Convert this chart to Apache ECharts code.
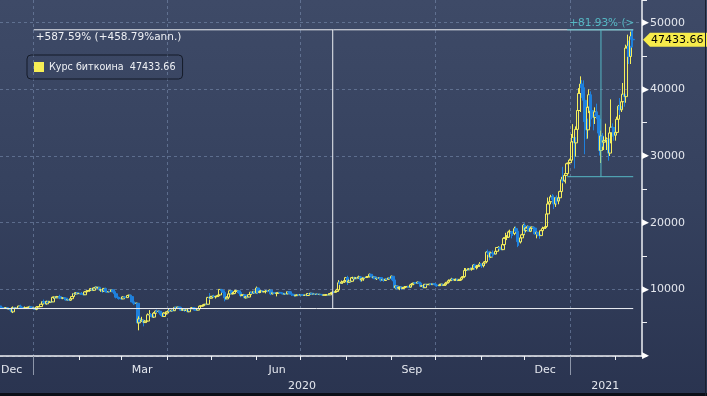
<!DOCTYPE html>
<html><head><meta charset="utf-8">
<script src="https://cdn.jsdelivr.net/npm/echarts@6/dist/echarts.min.js"></script>
<style>
html,body{margin:0;padding:0;background:#2b3451;overflow:hidden;}
#wrap{position:relative;width:707px;height:396px;}
#c{position:absolute;left:0;top:0;width:707px;height:396px;background:linear-gradient(to bottom,#3e4a67 0%,#35415e 50%,#2a3450 100%);}
#eb{position:absolute;left:0;top:393px;width:707px;height:3px;background:#0b0f18;}
#er{position:absolute;left:705px;top:0;width:1px;height:396px;background:#1b2232;}
</style></head><body><div id="wrap"><div id="c"></div><div id="eb"></div><div id="er"></div></div>
<script>
// ---- data ----
const seriesName = 'Курс биткоина';
const firstDay = [2019, 11, 9];   // 9 Dec 2019
const lastDay  = [2021, 1, 19];   // 19 Feb 2021 (axis end)
const monthNames = ['Jan','Feb','Mar','Apr','May','Jun','Jul','Aug','Sep','Oct','Nov','Dec'];
const monthLabelAt = ['2019-12-17','2020-03-15','2020-06-15','2020-09-15','2020-12-15'];
const yearLabelAt = ['2020-07-02','2021-01-25'];
const yTicks = [0,10000,20000,30000,40000,50000];

const opens = [
7510,7340,7220,7200,7190,7250,7065,7110,6880,6620,7280,7150,7190,7140,7500,7320,7250,7200,7200,7250,7320,7390,7250,
7190,7200,6985,7345,7410,7411,7770,8160,8045,7818,8197,8020,8185,8110,8810,8820,8720,8910,8920,8700,8660,8745,8680,8405,8445,8367,8596,8910,9358,9316,9508,
9350,9393,9344,9293,9180,9613,9729,9795,9865,10116,9856,10208,10326,10214,10312,9889,9934,9690,10141,9633,9608,9686,9663,9924,9650,9341,8820,8784,8672,
8599,8562,8869,8787,8755,9078,9122,8909,8108,7923,7909,7911,4970,5563,5200,5392,5014,5225,5238,6191,6198,6185,5830,6416,6734,6681,6716,6469,6242,5922,6429,
6438,6640,6807,6733,6868,6792,7293,7197,7366,7302,6865,6859,6971,6846,6869,6637,7117,7096,7257,7189,6881,6880,7117,7482,7505,7539,7693,7774,7759,8788,
8659,8864,8989,8897,8912,9004,9158,9986,9800,9539,8722,8562,8810,9310,9791,9316,9381,9680,9734,9775,9512,9058,9170,9180,8720,8900,8842,9204,9576,9427,9697,
9448,10200,9519,9666,9789,9621,9666,9746,9785,9771,9878,9321,9480,9475,9386,9454,9538,9480,9411,9289,9332,9303,9648,9629,9313,9264,9162,9046,9143,9190,
9138,9228,9123,9087,9132,9073,9375,9252,9428,9277,9278,9240,9277,9243,9243,9192,9132,9151,9159,9185,9165,9374,9525,9581,9536,9677,9905,10990,10912,11100,11111,
11323,11760,11053,11246,11205,11747,11779,11601,11754,11675,11878,11410,11584,11784,11768,11865,11892,12254,11991,11758,11878,11592,11681,11664,11774,11366,11488,11323,11542,11506,11711,
11680,11970,11414,10245,10512,10167,10280,10370,10131,10242,10363,10400,10442,10323,10680,10796,10974,10948,10944,11094,10939,10462,10538,10246,10760,10692,10750,10775,10709,10844,
10784,10619,10575,10549,10669,10793,10604,10668,10915,11064,11296,11384,11555,11425,11429,11505,11319,11360,11503,11751,11916,12823,12965,12931,13108,13031,13075,13654,13271,13437,13546,
13781,13737,13550,13950,14133,15579,15565,14833,15479,15332,15290,15701,16277,16317,16068,15955,16716,17645,17804,17817,18621,18642,18370,18364,19107,18732,17150,17108,17718,18177,
19625,18802,19201,19446,18699,19154,19345,19191,18321,18553,18264,18058,18803,19142,19246,19418,21310,22805,23137,23869,23477,22803,23783,23241,23735,24664,26437,26272,27084,27362,28840,
29001,29374,32127,32782,31971,33992,36824,39371,40797,40254,38356,35566,33922,37316,39187,36825,36178,35791,36630,36069,35547,30825,33005,32067,32289,32366,32569,30432,33466,34316,34269,
33114,33537,35510,37472,36926,38144,39266,38903,46196,46481,44918,47909,47504
];
const closes = [
7340,7220,7200,7190,7250,7065,7110,6880,6620,7280,7150,7190,7140,7500,7320,7250,7200,7200,7250,7320,7390,7250,7190,
7200,6985,7345,7410,7411,7770,8160,8045,7818,8197,8020,8185,8110,8810,8820,8720,8910,8920,8700,8660,8745,8680,8405,8445,8367,8596,8910,9358,9316,9508,9350,
9393,9344,9293,9180,9613,9729,9795,9865,10116,9856,10208,10326,10214,10312,9889,9934,9690,10141,9633,9608,9686,9663,9924,9650,9341,8820,8784,8672,8599,
8562,8869,8787,8755,9078,9122,8909,8108,7923,7909,7911,4970,5563,5200,5392,5014,5225,5238,6191,6198,6185,5830,6416,6734,6681,6716,6469,6242,5922,6429,6438,
6640,6807,6733,6868,6792,7293,7197,7366,7302,6865,6859,6971,6846,6869,6637,7117,7096,7257,7189,6881,6880,7117,7482,7505,7539,7693,7774,7759,8788,8659,
8864,8989,8897,8912,9004,9158,9986,9800,9539,8722,8562,8810,9310,9791,9316,9381,9680,9734,9775,9512,9058,9170,9180,8720,8900,8842,9204,9576,9427,9697,9448,
10200,9519,9666,9789,9621,9666,9746,9785,9771,9878,9321,9480,9475,9386,9454,9538,9480,9411,9289,9332,9303,9648,9629,9313,9264,9162,9046,9143,9190,9138,
9228,9123,9087,9132,9073,9375,9252,9428,9277,9278,9240,9277,9243,9243,9192,9132,9151,9159,9185,9165,9374,9525,9581,9536,9677,9905,10990,10912,11100,11111,11323,
11760,11053,11246,11205,11747,11779,11601,11754,11675,11878,11410,11584,11784,11768,11865,11892,12254,11991,11758,11878,11592,11681,11664,11774,11366,11488,11323,11542,11506,11711,11680,
11970,11414,10245,10512,10167,10280,10370,10131,10242,10363,10400,10442,10323,10680,10796,10974,10948,10944,11094,10939,10462,10538,10246,10760,10692,10750,10775,10709,10844,10784,
10619,10575,10549,10669,10793,10604,10668,10915,11064,11296,11384,11555,11425,11429,11505,11319,11360,11503,11751,11916,12823,12965,12931,13108,13031,13075,13654,13271,13437,13546,13781,
13737,13550,13950,14133,15579,15565,14833,15479,15332,15290,15701,16277,16317,16068,15955,16716,17645,17804,17817,18621,18642,18370,18364,19107,18732,17150,17108,17718,18177,19625,
18802,19201,19446,18699,19154,19345,19191,18321,18553,18264,18058,18803,19142,19246,19418,21310,22805,23137,23869,23477,22803,23783,23241,23735,24664,26437,26272,27084,27362,28840,29001,
29374,32127,32782,31971,33992,36824,39371,40797,40254,38356,35566,33922,37316,39187,36825,36178,35791,36630,36069,35547,30825,33005,32067,32289,32366,32569,30432,33466,34316,34269,33114,
33537,35510,37472,36926,38144,39266,38903,46196,46481,44918,47909,47504,47433.66
];
const highs = [
7620,7400,7270,7290,7300,7270,7180,7130,6930,7430,7340,7220,7200,7520,7690,7420,7270,7430,7270,7360,7520,7410,7320,
7250,7210,7400,7420,7500,7800,8210,8460,8050,8290,8280,8190,8200,8880,8900,8840,9010,9000,9180,8740,8780,8790,8690,8520,8450,8600,8970,9390,9420,9570,9520,
9440,9450,9600,9340,9720,9820,9860,9890,10140,10170,10280,10420,10500,10360,10340,10060,9950,10190,10240,9680,9740,9700,9980,10000,9660,9380,8970,8900,8790,
8740,8940,8900,8840,9140,9190,9180,8910,8180,8140,7970,7950,5950,5640,5880,5400,5380,5350,6390,6880,6450,6390,6590,6830,6950,6790,6860,6510,6260,6570,6520,
6680,7080,7000,6950,6880,7360,7440,7420,7380,7310,6940,7150,6980,6970,6930,7180,7150,7300,7260,7230,6940,7150,7510,7580,7680,7720,7790,7810,8860,9440,
9030,9020,9180,8950,9080,9380,9990,10030,9920,9560,9040,8970,9340,9820,9800,9580,9870,9940,9850,9800,9570,9270,9310,9300,8980,9010,9220,9620,9610,9740,9700,
10420,10230,9690,9870,9850,9730,9800,9800,9880,9990,9960,9550,9500,9480,9530,9580,9540,9490,9450,9400,9420,9690,9680,9670,9330,9290,9200,9170,9230,9200,
9300,9260,9130,9190,9140,9380,9380,9460,9430,9300,9290,9330,9340,9280,9270,9210,9180,9200,9220,9200,9400,9540,9640,9610,9720,10080,11380,11220,11320,11160,11440,
11860,12030,11470,11410,11780,11890,11900,11800,11800,12050,11950,11650,11800,11850,11980,11930,12360,12340,12000,11880,11880,11690,11710,11800,11800,11530,11590,11560,11590,11720,11770,
12060,11980,11440,10600,10540,10340,10400,10420,10350,10480,10420,10480,10460,10760,10940,11090,11040,11030,11170,11100,10990,10570,10550,10790,10770,10790,10800,10940,10870,10850,
10920,10630,10600,10690,10800,10800,10690,10950,11110,11480,11420,11730,11560,11550,11620,11540,11400,11520,11820,12000,13200,13180,13020,13160,13340,13250,13780,13840,13640,13660,14080,
13870,13820,14070,14240,15740,15960,15760,15650,15840,15460,15950,16350,16480,16330,16140,16870,17820,18480,18130,18800,18950,18700,18760,19390,19460,19020,17420,17850,18320,19830,
19920,19310,19570,19520,19170,19410,19420,19290,18640,18560,18270,18940,19400,19350,19560,21550,23770,23270,24170,24280,24100,23840,24100,23800,24790,26870,28380,27390,27390,28990,29300,
29600,33300,34780,33600,34440,36940,40180,41950,41380,41350,38500,36600,37600,40000,39700,37900,36850,37300,37850,36400,35600,33810,33430,32940,34850,32790,32580,33690,38500,34900,34300,
34650,35900,37660,38700,38300,40950,39700,46700,48200,47300,48650,48900,48930
];
const lows = [
7290,7170,7130,7080,7180,7050,7030,6850,6560,6440,7040,7110,7100,7130,7270,7160,7130,7170,7080,7240,7290,7220,7150,
7170,6930,6870,7270,7370,7400,7730,7880,7760,7700,8000,7970,8070,8100,8580,8620,8700,8830,8520,8520,8520,8610,8310,8250,8280,8300,8580,8880,9220,9200,9220,
9320,9180,9240,9110,9170,9550,9690,9680,9850,9740,9750,10200,10080,10130,9810,9630,9470,9630,9570,9460,9580,9580,9650,9530,9300,8640,8560,8460,8560,
8420,8530,8670,8700,8750,9010,8880,8080,7660,7750,7590,4860,3850,5090,5170,4450,4980,5050,5230,5730,5860,5790,5720,6380,6470,6540,6380,6030,5880,5880,6360,
6200,6600,6700,6680,6720,6780,7140,7170,7200,6780,6800,6810,6620,6770,6620,6570,7010,7080,7070,6820,6810,6860,7030,7450,7450,7470,7650,7680,7740,8450,
8640,8820,8750,8620,8810,8950,9060,9710,9520,8200,8380,8540,8800,9260,9290,9230,9330,9580,9460,9340,8820,8990,9100,8710,8630,8700,8820,9120,9330,9350,9400,
9420,9280,9420,9480,9580,9560,9390,9640,9550,9720,9120,9250,9360,9310,8940,9380,9380,9300,9240,9200,9280,9290,9560,9240,9000,9060,8840,8960,9020,9090,
9100,9040,9050,9070,8950,9060,9220,9240,9200,9150,9200,9170,9200,9130,9170,9020,9090,9130,9120,9140,9150,9280,9470,9470,9530,9640,9890,10640,10860,10850,10980,
11230,10650,11000,11050,11090,11560,11360,11540,11550,11650,11140,11170,11290,11660,11700,11720,11820,11880,11610,11700,11520,11400,11520,11600,11150,11280,11130,11280,11460,11470,11600,
11660,11210,10200,10010,9900,10020,9880,9900,10080,10220,10200,10340,10220,10260,10630,10680,10800,10800,10900,10790,10350,10390,10160,10200,10590,10650,10620,10670,10650,10690,
10430,10380,10510,10530,10630,10540,10580,10550,10840,11050,11280,11280,11300,11280,11270,11220,11300,11350,11410,11690,11900,12720,12730,12890,12930,12800,13060,12950,12990,13140,13440,
13620,13200,13290,13550,14080,15180,14360,14720,14820,15080,15270,15440,15980,15800,15860,15880,16570,17230,17380,17760,18350,17640,18010,18130,18580,16330,16520,16880,17550,18150,
18330,18540,18930,18620,18580,18950,18930,18200,17650,17940,17580,18020,18710,19000,19060,19300,21240,22350,22780,23100,22040,22360,22700,22760,23450,24520,25920,26150,25880,27340,28220,
28800,29000,32000,28130,29900,33400,36300,36600,38720,35110,30260,32530,32600,36430,34400,35500,33850,34800,35900,33400,30070,28950,31400,30900,32100,30900,29300,30000,31900,32900,32300,
32300,33420,35380,36160,36600,38100,37400,37990,45000,43800,43800,46250,46300
];

// annotation values (from the chart's measurement tool)
const annTop = 48930;
const annBase = 7116;
const ann2Base = 26895;
const annStart = '2020-01-01';
const annEnd = '2021-02-13';
const annMid = '2020-07-23';
const ann2Start = '2020-12-30';
const ann2Mid = '2021-01-22';
const annText = '+587.59% (+458.79%ann.)';
const ann2Text = '+81.93% (>';
const lastPrice = 47433.66;

// ---- build ----
const dates = [];
for (let t = Date.UTC(firstDay[0], firstDay[1], firstDay[2]); t <= Date.UTC(lastDay[0], lastDay[1], lastDay[2]); t += 86400000) {
  dates.push(new Date(t).toISOString().slice(0, 10));
}
const n = Math.min(opens.length, closes.length, highs.length, lows.length);
const ohlc = [];
for (let i = 0; i < n; i++) ohlc.push([opens[i], closes[i], lows[i], highs[i]]);

const FONT = 'DejaVu Sans';
const WHITE = '#eef0f4';
const CYAN = '#55b8c4';
const GRIDC = 'rgba(125,145,180,0.55)';
const monthOf = v => monthNames[+v.slice(5, 7) - 1];
const Y_MAX = 53400;

const chart = echarts.init(document.getElementById('c'), null, {renderer: 'canvas'});

function annLine(data, color) {
  return {
    type: 'line', data: data, symbol: 'none', showSymbol: true, silent: true,
    lineStyle: {color: color, width: 1}, itemStyle: {color: '#3c4865', borderColor: color, borderWidth: 1},
    emphasis: {disabled: true}, z: 5, animation: false
  };
}
const tri = (v) => ({value: v, symbol: 'triangle', symbolSize: [11, 11], symbolOffset: [0, 6]});

chart.setOption({
  backgroundColor: 'transparent',
  animation: false,
  grid: {left: 0, right: 65, top: 0, bottom: 40, containLabel: false, outerBoundsMode: 'none'},
  legend: {
    left: 27, top: 55, selectedMode: false,
    data: [{name: seriesName, icon: 'rect', itemStyle: {color: '#f6ee55', borderWidth: 0}}],
    itemWidth: 10, itemHeight: 10, padding: [7, 7, 7, 7],
    borderColor: '#151b29', borderWidth: 1, borderRadius: 4, backgroundColor: 'rgba(0,0,0,0)',
    textStyle: {color: WHITE, fontSize: 9.6, fontFamily: FONT},
    formatter: name => name + '  ' + lastPrice.toFixed(2)
  },
  xAxis: [{
    type: 'category', data: dates, boundaryGap: false, offset: 4,
    axisLine: {lineStyle: {color: WHITE, width: 1.5}},
    axisTick: {show: true, interval: (i, v) => v.slice(8) === '01', length: 4, lineStyle: {color: WHITE}},
    axisLabel: {
      interval: (i, v) => monthLabelAt.includes(v),
      formatter: v => monthOf(v), color: '#e4e7ee', fontSize: 11, fontFamily: FONT, margin: 5
    },
    splitLine: {show: true, interval: (i, v) => v.slice(8) === '01' && ['01','04','07','10'].includes(v.slice(5, 7)),
      lineStyle: {color: GRIDC, type: [3, 3]}}
  }, {
    type: 'category', data: dates, boundaryGap: false, position: 'bottom', offset: 21,
    axisLine: {show: false},
    axisTick: {show: true, interval: (i, v) => v.slice(5) === '01-01', length: 19, lineStyle: {color: '#8d96a9'}},
    axisLabel: {interval: (i, v) => yearLabelAt.includes(v), formatter: v => v.slice(0, 4),
      color: '#e4e7ee', fontSize: 11, fontFamily: FONT, margin: 4},
    splitLine: {show: false}
  }],
  yAxis: [{
    type: 'value', position: 'right', min: 0, max: Y_MAX, interval: 10000,
    axisLine: {show: true, lineStyle: {color: WHITE, width: 1.5}},
    axisTick: {show: false},
    axisLabel: {
      margin: 0, showMaxLabel: false,
      formatter: v => yTicks.includes(v) ? (v === 0 ? '{t|▶}' : '{t|▶}{n|' + v + '}') : '',
      rich: {t: {fontSize: 9, color: '#ffffff', fontFamily: FONT, verticalAlign: 'middle', padding: [0, 1, 0, 0]},
             n: {fontSize: 11, color: '#e4e7ee', fontFamily: FONT, verticalAlign: 'middle'}}
    },
    splitLine: {show: true, showMaxLine: false, lineStyle: {color: GRIDC, type: [3, 3]}}
  }, {
    type: 'value', position: 'right', min: 0, max: Y_MAX, interval: 5000,
    axisLine: {show: false},
    axisTick: {show: true, length: 5, lineStyle: {color: WHITE}},
    axisLabel: {show: false},
    splitLine: {show: false}
  }],
  series: [
    {
      type: 'candlestick', name: seriesName, data: ohlc, barWidth: 3, silent: true,
      itemStyle: {color: 'rgba(0,0,0,0)', color0: '#1f80dc', borderColor: '#f5ee5c', borderColor0: '#1f80dc', borderWidth: 1},
      emphasis: {disabled: true}, z: 2
    },
    annLine([[dates[0], annBase], [annEnd, annBase]], WHITE),
    annLine([[annStart, annTop], [annEnd, annTop]], WHITE),
    annLine([[annMid, annBase], tri([annMid, annTop])], WHITE),
    annLine([[ann2Start, ann2Base], [annEnd, ann2Base]], CYAN),
    annLine([[ann2Start, annTop], [annEnd, annTop]], CYAN),
    annLine([[ann2Mid, ann2Base], tri([ann2Mid, annTop])], CYAN)
  ]
});

// texts and the price tag, placed through the chart's own scales
const px = (d, v) => chart.convertToPixel({xAxisIndex: 0, yAxisIndex: 0}, [dates.indexOf(d), v]);
const p1 = px(annStart, annTop);
const p2 = px(ann2Start, annTop);
const pTag = px(dates[dates.length - 1], lastPrice);
chart.setOption({
  graphic: [
    {type: 'text', x: p1[0] + 2, y: p1[1] + 2, z: 10,
     style: {text: annText, fill: WHITE, font: '10.5px "DejaVu Sans"', textAlign: 'left', textVerticalAlign: 'top', align: 'left', verticalAlign: 'top'}},
    {type: 'text', x: p2[0] + 2, y: p2[1] - 1, z: 10,
     style: {text: ann2Text, fill: CYAN, font: '10.5px "DejaVu Sans"', textAlign: 'left', textVerticalAlign: 'bottom', align: 'left', verticalAlign: 'bottom'}},
    {type: 'polygon', x: pTag[0], y: pTag[1], z: 10,
     shape: {points: [[1, 0], [8, -7], [66, -7], [66, 7], [8, 7]]}, style: {fill: '#f7ec4b'}},
    {type: 'text', x: pTag[0] + 9, y: pTag[1] + 0.5, z: 11,
     style: {text: lastPrice.toFixed(2), fill: '#000000', font: '11px "DejaVu Sans"', textAlign: 'left', textVerticalAlign: 'middle', align: 'left', verticalAlign: 'middle'}}
  ]
});
</script></body></html>
